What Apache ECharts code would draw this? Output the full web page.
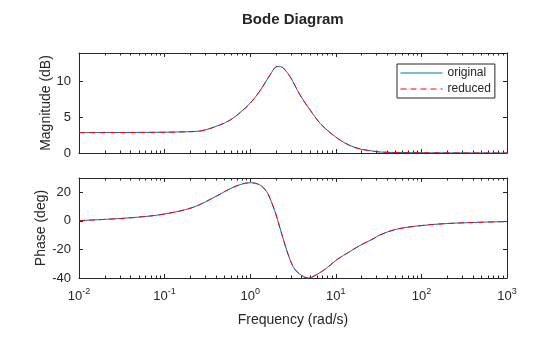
<!DOCTYPE html>
<html><head><meta charset="utf-8">
<script src="https://cdn.jsdelivr.net/npm/echarts@6/dist/echarts.min.js"></script>
<style>html,body{margin:0;padding:0;background:#fff}#c{width:560px;height:337px}</style>
</head><body><div id="c"></div>
<script>
// Frequency (rad/s) and magnitude (dB)
const magFreq = [0.01, 0.03, 0.088, 0.15, 0.258, 0.443, 0.6, 0.76, 1.0, 1.3, 1.7, 2.07, 2.3, 2.44, 2.92, 3.82, 5.0, 6.55, 8.57, 11.2, 14.7, 19.2, 25, 33, 50, 100, 300, 1000];
const magDb   = [2.85, 2.87, 2.9, 2.95, 3.08, 3.93, 4.7, 5.65, 6.97, 8.7, 10.9, 12.1, 12.05, 11.9, 10.7, 8.13, 6.03, 4.16, 2.85, 1.82, 1.03, 0.56, 0.33, 0.14, 0.07, 0.03, 0.01, 0.0];
// Frequency (rad/s) and phase (deg)
const phaseFreq = [0.01, 0.021, 0.043, 0.095, 0.216, 0.405, 0.634, 1.0, 1.3, 1.56, 1.7, 1.95, 2.23, 2.55, 2.92, 3.34, 4.0, 4.78, 5.98, 7.83, 10.3, 14.7, 19.2, 27.5, 32.4, 51.6, 100, 196, 481, 1000];
const phaseDeg  = [0.2, 1.1, 2.3, 4.6, 9.5, 17.4, 23.5, 26.7, 25.1, 20.4, 15.8, 6.5, -5.1, -16.7, -27.2, -34.1, -38.3, -40, -37.6, -33, -27.2, -21.4, -17.2, -12.5, -10.0, -5.8, -3.3, -1.9, -1.0, -0.5];
// Tick values
const xMajorTicks = [0.01, 0.1, 1, 10, 100, 1000];
const xMinorTicks = [0.02,0.03,0.04,0.05,0.06,0.07,0.08,0.09, 0.2,0.3,0.4,0.5,0.6,0.7,0.8,0.9, 2,3,4,5,6,7,8,9, 20,30,40,50,60,70,80,90, 200,300,400,500,600,700,800,900];
const magTicks = [0, 5, 10];
const phaseTicks = [-40, -20, 0, 20];
const seriesNames = ['original', 'reduced'];

const INK = '#262626';
const FONT = 'Liberation Sans, Arial, sans-serif';

function xAx(grid, pos, minor, labels) {
  return {
    type: 'log', logBase: 10, gridIndex: grid, position: pos, min: 0.01, max: 1000,
    axisLine: { show: !minor, onZero: false, lineStyle: { color: INK, width: 1 } },
    axisTick: { show: true, inside: true, length: minor ? 2.5 : 4,
      customValues: minor ? xMinorTicks : xMajorTicks, lineStyle: { color: INK } },
    axisLabel: { show: labels, customValues: xMajorTicks, margin: 10, color: INK, fontFamily: FONT,
      formatter: v => '{b|10}{s|' + Math.round(Math.log10(v)) + '}',
      rich: { b: { fontSize: 13, fontFamily: FONT, color: INK, lineHeight: 16 },
              s: { fontSize: 9, fontFamily: FONT, color: INK, lineHeight: 16, padding: [0, 0, 9, 0] } } },
    splitLine: { show: false },
    name: labels ? 'Frequency (rad/s)' : '', nameLocation: 'middle', nameGap: 35, nameMoveOverlap: false,
    nameTextStyle: { fontSize: 14, color: INK, fontFamily: FONT }
  };
}
function yAx(grid, pos, min, max, ticks, name, gap) {
  const left = pos === 'left';
  return {
    type: 'value', gridIndex: grid, position: pos, min: min, max: max,
    axisLine: { show: true, onZero: false, lineStyle: { color: INK, width: 1 } },
    axisTick: { show: true, inside: true, length: 4, customValues: ticks, lineStyle: { color: INK } },
    axisLabel: { show: left, customValues: ticks, margin: 8, fontSize: 13, color: INK, fontFamily: FONT },
    splitLine: { show: false },
    name: left ? name : '', nameLocation: 'middle', nameGap: gap, nameMoveOverlap: false,
    nameTextStyle: { fontSize: 14, color: INK, fontFamily: FONT }
  };
}

const magData = magFreq.map((f, i) => [f, magDb[i]]);
const phaseData = phaseFreq.map((f, i) => [f, phaseDeg[i]]);

function line(name, xi, yi, data, color, dashed, z) {
  return { name: name, type: 'line', xAxisIndex: xi, yAxisIndex: yi, data: data,
    symbol: 'none', showSymbol: false, smooth: 0.35, z: z, clip: true,
    lineStyle: { color: color, width: 1, type: dashed ? [6, 4] : 'solid' },
    itemStyle: { color: color } };
}

const chart = echarts.init(document.getElementById('c'), null, { renderer: 'canvas' });
chart.setOption({
  animation: false,
  backgroundColor: '#fff',
  title: { text: 'Bode Diagram', left: 242, top: 12, padding: 0,
    textStyle: { fontSize: 15, fontWeight: 'bold', color: INK, fontFamily: FONT } },
  legend: { data: seriesNames, orient: 'vertical', left: 397, top: 64, padding: [3, 4, 3, 3],
    itemWidth: 42, itemHeight: 11, itemGap: 4, borderColor: INK, borderWidth: 1, backgroundColor: '#fff',
    borderRadius: 0, itemStyle: { color: 'rgba(0,0,0,0)', borderWidth: 0 }, lineStyle: { width: 1, opacity: 1 },
    textStyle: { fontSize: 12, color: INK, fontFamily: FONT } },
  grid: [
    { left: 79, top: 53, width: 428, height: 100 },
    { left: 79, top: 178, width: 428, height: 100 }
  ],
  xAxis: [
    xAx(0, 'bottom', false, false), xAx(0, 'bottom', true, false),
    xAx(0, 'top', false, false), xAx(0, 'top', true, false),
    xAx(1, 'bottom', false, true), xAx(1, 'bottom', true, false),
    xAx(1, 'top', false, false), xAx(1, 'top', true, false)
  ],
  yAxis: [
    yAx(0, 'left', 0, 14, magTicks, 'Magnitude (dB)', 26),
    yAx(0, 'right', 0, 14, magTicks, '', 0),
    yAx(1, 'left', -40, 30, phaseTicks, 'Phase (deg)', 31),
    yAx(1, 'right', -40, 30, phaseTicks, '', 0)
  ],
  series: [
    line(seriesNames[0], 0, 0, magData, '#0072BD', false, 2),
    line(seriesNames[1], 0, 0, magData, '#FF0000', true, 3),
    line(seriesNames[0], 4, 2, phaseData, '#0072BD', false, 2),
    line(seriesNames[1], 4, 2, phaseData, '#FF0000', true, 3)
  ]
});
</script></body></html>
